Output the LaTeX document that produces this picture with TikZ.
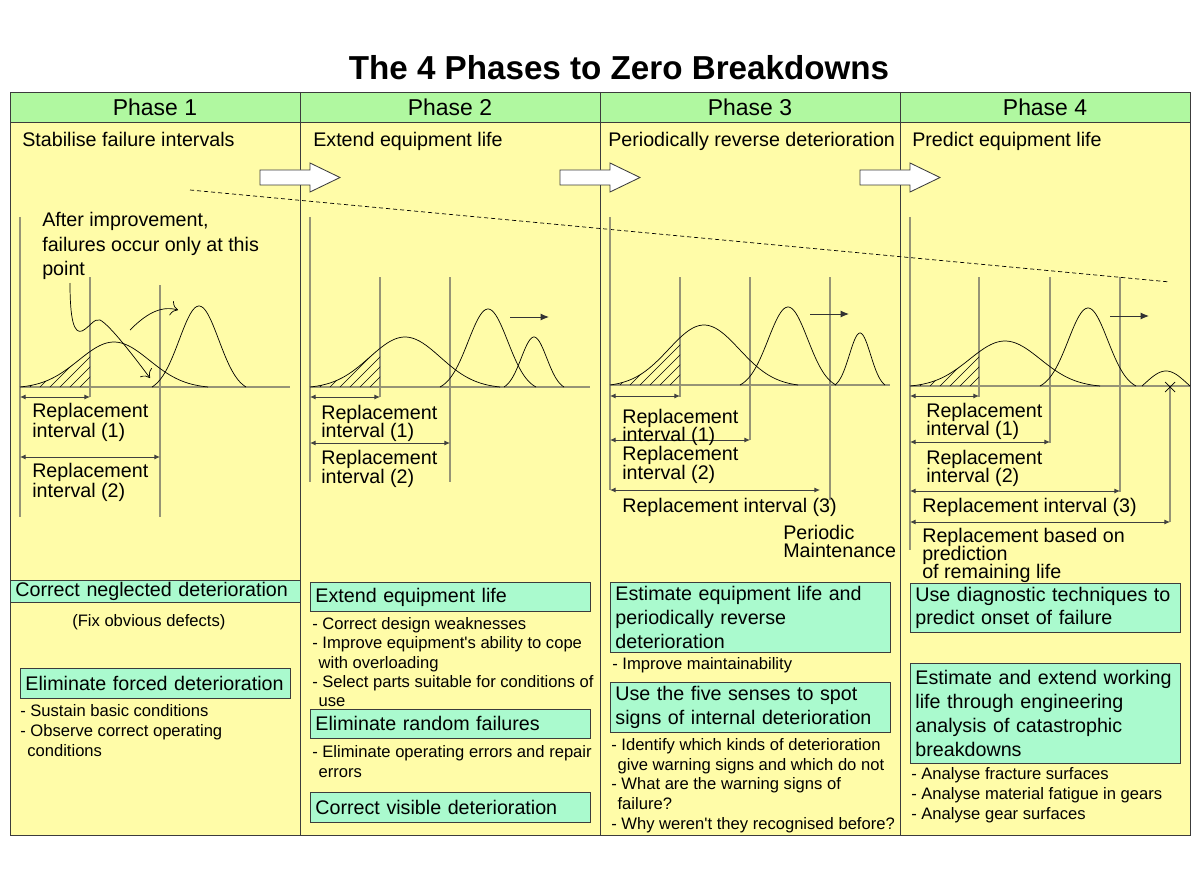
\documentclass[tikz,border=0pt]{standalone}
\usepackage{fontspec}
\setmainfont{Liberation Sans}
\usetikzlibrary{arrows.meta}
\definecolor{zbGreen}{RGB}{176,248,160}
\definecolor{zbYellow}{RGB}{255,252,168}
\definecolor{zbMint}{RGB}{170,250,206}
\definecolor{zbFrame}{RGB}{60,60,60}
\definecolor{zbAxis}{RGB}{150,148,118}
\setlength{\lineskiplimit}{-20pt}

\begin{document}
\begin{tikzpicture}[
    x=0.025cm, y=-0.025cm,
    head/.style={font=\fontsize{16.3}{19}\selectfont},
    sub/.style={anchor=north west, inner sep=0pt, align=left, font=\fontsize{14}{17}\selectfont},
    lbl/.style={anchor=north west, inner sep=0pt, align=left, font=\fontsize{14}{12.8}\selectfont},
    bul/.style={anchor=north west, inner sep=0pt, align=left, font=\fontsize{11.8}{14.2}\selectfont},
    task/.style={rectangle, draw=zbFrame, fill=zbMint, anchor=north west, line width=0.6pt,
                 inner xsep=0.125cm, inner ysep=0pt, align=left, font=\fontsize{14}{17}\selectfont},
    curve/.style={black, line width=0.5pt},
    hatch/.style={black, line width=0.4pt},
    axisln/.style={zbAxis, line width=0.9pt},
    dim/.style={{Latex[length=4pt,width=3.5pt]}-{Latex[length=4pt,width=3.5pt]}, black!75, line width=0.6pt},
    push/.style={-{Latex[length=6pt,width=5pt]}, black!80, line width=0.7pt},
    blockarrow/.style={draw=zbFrame, fill=white, line width=0.6pt}
  ]
  \useasboundingbox (0,0) rectangle (1200,892);

  % table frame
  \fill[zbYellow] (10,122) rectangle (1190,835);
  \fill[zbGreen] (10,92) rectangle (1190,122);
  \draw[zbFrame, line width=0.6pt] (10,92) rectangle (1190,835) (10,122) -- (1190,122);
  \foreach \x in {300,600,900}
    \draw[zbFrame, line width=0.6pt] (\x,92) -- (\x,835);

  \node[font=\fontsize{23.6}{28}\selectfont\bfseries] (title) at (619,68) {The 4 Phases to Zero Breakdowns};
  \foreach \n/\x in {1/155, 2/450, 3/750, 4/1045}
    \node[head] (ph\n) at (\x,107) {Phase \n};

  \node[sub] (sub1) at (22,132)  {Stabilise failure intervals};
  \node[sub] (sub2) at (313,132) {Extend equipment life};
  \node[sub] (sub3) at (608,132) {Periodically reverse deterioration};
  \node[sub] (sub4) at (912,132) {Predict equipment life};

  % phase arrows and trend line
  \foreach \x in {260,560,860}
    \draw[blockarrow] (\x,170) -- ++(50,0) -- ++(0,-7) -- ++(30,14.5) -- ++(-30,14.5)
      -- ++(0,-7) -- ++(-50,0) -- cycle;
  \draw[black, line width=0.5pt, dash pattern=on 3pt off 2pt] (190,190) -- (1170,282);

  % axes and interval lines
  \foreach \x/\t/\b in {20/217/517, 90/277/397, 160/285/517,
                        310/217/482, 380/277/397, 450/277/482,
                        610/217/490, 680/277/397, 750/277/440, 830/277/500,
                        910/217/550, 979/277/397, 1050/277/443, 1120/277/492, 1170/387/522}
    \draw[axisln] (\x,\t) -- (\x,\b);
  \foreach \a/\e/\y in {20/290/387, 310/590/387, 610/890/385, 910/1190/386}
    \draw[axisln] (\a,\y) -- (\e,\y);

  % failure distributions with hatched part
  \foreach \base/\ctr/\half/\tall/\spread/\hend in {
      387/114/94/45/50/90,   387/199/47/81/28/160,
      387/405/95/50/50/380,  387/488/48/78/28/450,
      385/704/94/60/50/680,  385/788/48/78/28/750,
      386/1005/95/45/50/979, 386/1088/48/78/28/1050}{
    \pgfmathsetmacro\cval{exp(-((\half/\spread)^2))}
    \pgfmathsetmacro\lo{\ctr-\half}
    \pgfmathsetmacro\hi{\ctr+\half}
    \draw[curve] plot[domain=\lo:\hi, samples=60]
      (\x,{\base-\tall*(exp(-(((\x-\ctr)/\spread)^2))-\cval)/(1-\cval)});
    \begin{scope}
      \clip plot[domain=\lo:\hend, samples=30]
        (\x,{\base-\tall*(exp(-(((\x-\ctr)/\spread)^2))-\cval)/(1-\cval)}) -- (\hend,\base) -- cycle;
      \foreach \k in {0,...,16}
        \draw[hatch] ({\lo-80+\k*10},\base) -- ++(90,-90);
    \end{scope}
  }
  \foreach \base/\ctr/\half/\tall/\spread in {387/534/30/50/18, 385/860/25/52/15, 386/1166/24/15/30}{
    \pgfmathsetmacro\cval{exp(-((\half/\spread)^2))}
    \pgfmathsetmacro\lo{\ctr-\half}
    \pgfmathsetmacro\hi{\ctr+\half}
    \draw[curve] plot[domain=\lo:\hi, samples=40]
      (\x,{\base-\tall*(exp(-(((\x-\ctr)/\spread)^2))-\cval)/(1-\cval)});
  }
  \draw[curve] (1165,382) -- (1175,392) (1165,392) -- (1175,382);

  % phase 1 notes
  \node[sub, font=\fontsize{14}{17.4}\selectfont] (after) at (42,212)
    {After improvement,\\failures occur only at this\\point};
  \coordinate (ptTail) at (70,283);
  \coordinate (ptHead) at (150,378);
  \draw[curve, -{To[length=5pt]}] (ptTail) .. controls (70,320) and (74,334) .. (82,331)
    .. controls (90,327) and (94,318) .. (100,320) .. controls (110,325) and (135,358) .. (ptHead);
  \draw[curve, -{To[length=5pt]}] (130,330) .. controls (145,315) and (160,305) .. (178,310);
  \foreach \a/\y in {510/317, 810/314, 1110/316}
    \draw[push] (\a,\y) -- ++(39,0);

  % replacement intervals
  \foreach \y/\a/\e in {397/20/90, 457/20/160,
                        397/310/380, 443/310/450,
                        396/610/680, 440/610/750, 490/610/820,
                        396/910/979, 442/910/1050, 491/910/1120, 522/910/1170}
    \draw[dim] (\a,\y) -- (\e,\y);

  \node[lbl, font=\fontsize{14}{14.2}\selectfont] (ri11) at (32,403) {Replacement\\interval (1)};
  \node[lbl, font=\fontsize{14}{14.2}\selectfont] (ri12) at (32,463) {Replacement\\interval (2)};
  \node[lbl] (ri21) at (321,405) {Replacement\\interval (1)};
  \node[lbl, font=\fontsize{14}{13.5}\selectfont] (ri22) at (321,450) {Replacement\\interval (2)};
  \node[lbl] (ri31) at (622,409) {Replacement\\interval (1)};
  \node[lbl, font=\fontsize{14}{13.5}\selectfont] (ri32) at (622,446) {Replacement\\interval (2)};
  \node[lbl] (ri33) at (622,498) {Replacement interval (3)};
  \node[lbl, font=\fontsize{14}{12.5}\selectfont] (pm) at (783,525) {Periodic\\Maintenance};
  \node[lbl] (ri41) at (926,403) {Replacement\\interval (1)};
  \node[lbl] (ri42) at (926,450) {Replacement\\interval (2)};
  \node[lbl] (ri43) at (922,498) {Replacement interval (3)};
  \node[lbl] (ri44) at (922,528) {Replacement based on\\prediction\\of remaining life};

  % activities, phase 1
  \node[task, text width=7cm, minimum height=0.55cm] (neglect) at (10,580) {Correct neglected deterioration};
  \node[bul] (fixnote) at (72,614) {(Fix obvious defects)};
  \node[task, text width=6.5cm, minimum height=0.75cm] (forced) at (20,668) {Eliminate forced deterioration};
  \node[bul] (forcedlist) at (20,704)
    {- Sustain basic conditions\\- Observe correct operating\\\hspace*{5pt}conditions};

  % activities, phase 2
  \node[task, text width=6.75cm, minimum height=0.725cm] (extend) at (310,582) {Extend equipment life};
  \node[bul, font=\fontsize{11.8}{13.8}\selectfont] (extendlist) at (312,617)
    {- Correct design weaknesses\\- Improve equipment\textquotesingle s ability to cope\\\hspace*{4.5pt}with overloading\\- Select parts suitable for conditions of\\\hspace*{4.5pt}use};
  \node[task, text width=6.75cm, minimum height=0.725cm] (random) at (310,709) {Eliminate random failures};
  \node[bul] (randomlist) at (312,745) {- Eliminate operating errors and repair\\\hspace*{4.5pt}errors};
  \node[task, text width=6.75cm, minimum height=0.75cm] (visible) at (310,792) {Correct visible deterioration};

  % activities, phase 3
  \node[task, text width=6.75cm, minimum height=1.75cm] (estimate) at (610,582)
    {Estimate equipment life and\\periodically reverse\\deterioration};
  \node[bul] (maint) at (612,657) {- Improve maintainability};
  \node[task, text width=6.75cm, minimum height=1.25cm] (senses) at (610,682)
    {Use the five senses to spot\\signs of internal deterioration};
  \node[bul, font=\fontsize{11.8}{14}\selectfont] (senseslist) at (611,738)
    {- Identify which kinds of deterioration\\\hspace*{4.5pt}give warning signs and which do not\\- What are the warning signs of\\\hspace*{4.5pt}failure?\\- Why weren\textquotesingle t they recognised before?};

  % activities, phase 4
  \node[task, text width=6.5cm, minimum height=1.225cm] (diag) at (910,583)
    {Use diagnostic techniques to\\predict onset of failure};
  \node[task, text width=6.5cm, minimum height=2.5cm] (working) at (910,663)
    {Estimate and extend working\\life through engineering\\analysis of catastrophic\\breakdowns};
  \node[bul] (analyse) at (911,767)
    {- Analyse fracture surfaces\\- Analyse material fatigue in gears\\- Analyse gear surfaces};
\end{tikzpicture}
\end{document}
